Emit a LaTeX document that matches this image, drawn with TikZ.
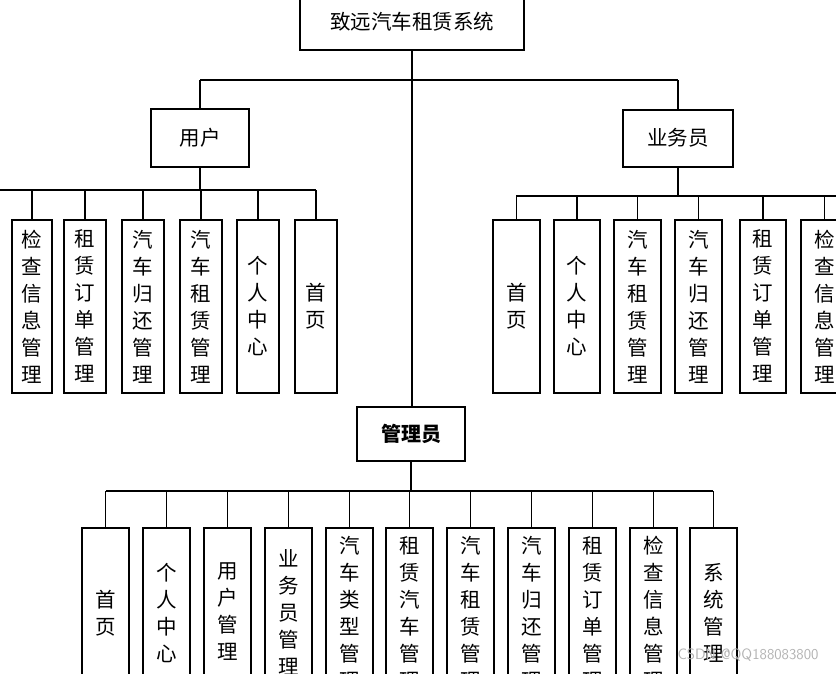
\documentclass[tikz,border=0pt]{standalone}
\usepackage{fontspec}
\newfontfamily\cjk{Noto Sans CJK SC}
\begin{document}
\begin{tikzpicture}[x=1pt,y=-1pt,
  box/.style={draw,line width=1.4pt,fill=white},
  bus/.style={line width=2.2pt},
  conn/.style={line width=1.6pt},
  vt/.style={font=\cjk\fontsize{20.5}{27}\selectfont,align=center,inner sep=0pt},
  ht/.style={font=\cjk\fontsize{20.5}{24}\selectfont,inner sep=0pt}]
\useasboundingbox (0,0) rectangle (836,673);
\clip (0,0) rectangle (836,673);
% top
\draw[box] (300,-5) rectangle (524,50);
\node[ht] (root) at (412,22) {致远汽车租赁系统};
\draw[conn] (412,50) -- (412,407);
\draw[conn] (200,80) -- (678,80);
\draw[conn] (200,80) -- (200,109);
\draw[conn] (678,80) -- (678,110);
\draw[box] (151,109) rectangle (249,167); \node[ht] (user) at (200,138) {用户};
\draw[box] (623,110) rectangle (733,167); \node[ht] (sales) at (678,138) {业务员};
\draw[box] (357,407) rectangle (465,461); \node[ht,font=\cjk\bfseries\fontsize{20}{24}\selectfont] (admin) at (411,434) {管理员};
% user branch
\draw[bus] (200,167) -- (200,190);
\draw[bus] (0,190) -- (316,190);
\foreach \l/\r/\t in {12/52/检\\查\\信\\息\\管\\理,64/106/租\\赁\\订\\单\\管\\理,122/164/汽\\车\\归\\还\\管\\理,180/222/汽\\车\\租\\赁\\管\\理,237/279/个\\人\\中\\心,295/337/首\\页}{
  \draw[conn] ({(\l+\r)/2},190) -- ({(\l+\r)/2},220);
  \draw[box] (\l,220) rectangle (\r,393);
  \node[vt] at ({(\l+\r)/2},306.5) {\t};
}
% sales branch
\draw[bus] (678,167) -- (678,196);
\draw[bus] (516,196) -- (840,196);
\foreach \l/\r/\t in {493/540/首\\页,554/600/个\\人\\中\\心,614/661/汽\\车\\租\\赁\\管\\理,675/722/汽\\车\\归\\还\\管\\理,740/786/租\\赁\\订\\单\\管\\理,801/848/检\\查\\信\\息\\管\\理}{
  \draw[conn] ({(\l+\r)/2},196) -- ({(\l+\r)/2},220);
  \draw[box] (\l,220) rectangle (\r,393);
  \node[vt] at ({(\l+\r)/2},306.5) {\t};
}
% admin branch
\draw[bus] (411,461) -- (411,491);
\draw[bus] (106,491) -- (713,491);
\foreach \l/\t/\n in {82/首\\页/2,143/个\\人\\中\\心/4,204/用\\户\\管\\理/4,265/业\\务\\员\\管\\理/5,326/汽\\车\\类\\型\\管\\理/6,386/租\\赁\\汽\\车\\管\\理/6,447/汽\\车\\租\\赁\\管\\理/6,508/汽\\车\\归\\还\\管\\理/6,569/租\\赁\\订\\单\\管\\理/6,630/检\\查\\信\\息\\管\\理/6,690/系\\统\\管\\理/4}{
  \draw[conn] ({\l+23.5},491) -- ({\l+23.5},528);
  \draw[box] (\l,528) rectangle ({\l+47},720);
  \node[vt,anchor=north] at ({\l+23.5},{614-0.5*27*\n+3}) {\t};
}
\node[font=\fontsize{15}{18}\selectfont\sffamily,text=gray!60,anchor=east] (wm) at (822,655) {CSDN @QQ188083800};
\end{tikzpicture}
\end{document}
